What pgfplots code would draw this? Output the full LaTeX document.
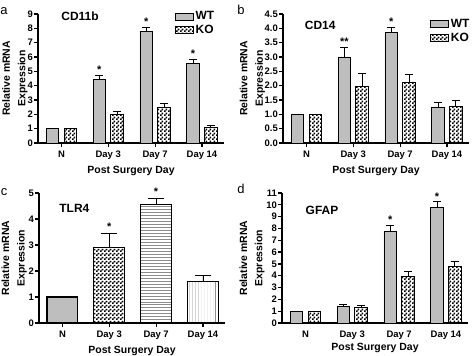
\documentclass[border=0pt]{standalone}
\usepackage{pgfplots}
\pgfplotsset{compat=1.18}
\usepackage{fontspec}
\setmainfont{Liberation Sans}
\usetikzlibrary{patterns,patterns.meta}
\definecolor{wtgray}{RGB}{190,190,190}
\tikzset{ptitle/.style={font=\bfseries\fontsize{12}{12}\selectfont}}
\pgfdeclarepattern{
  name=fchk, type=uncolored,
  bottom left={\pgfpoint{0bp}{0bp}}, top right={\pgfpoint{4bp}{4bp}},
  tile size={\pgfpoint{4bp}{4bp}},
  code={\pgfpathrectangle{\pgfpointorigin}{\pgfpoint{2bp}{2bp}}%
        \pgfpathrectangle{\pgfpoint{2bp}{2bp}}{\pgfpoint{2bp}{2bp}}%
        \pgfusepath{fill}}
}

\pgfplotsset{
  panel/.style={
    ybar,
    scale only axis, width=186bp, height=129bp,
    xmin=-0.5, xmax=3.47, ymin=0, enlargelimits=false,
    axis x line=bottom, axis y line=left,
    axis line style={-, line width=1.6bp},
    tick align=outside,
    major tick length=4bp,
    tick style={line width=1.2bp, black},
    xtick={0,1,2,3}, xticklabels={N, Day 3, Day 7, Day 14},
    /pgf/number format/assume math mode=true,
    tick label style={font=\bfseries\fontsize{9.5}{10}\selectfont},
    yticklabel style={inner sep=1bp},
    ylabel={Relative mRNA\\Expression},
    ylabel style={align=center, font=\bfseries\fontsize{10.5}{15.5}\selectfont, anchor=center, rotate=0},
    xlabel={Post Surgery Day},
    xlabel style={font=\bfseries\fontsize{10.5}{12}\selectfont},
    clip=false,
    legend style={draw=none, fill=none, inner sep=0pt, anchor=north west,
      font=\bfseries\fontsize{12}{12}\selectfont, row sep=0pt},
    legend cell align=left,
  },
  ebars/.style={error bars/y dir=plus, error bars/y explicit,
    error bars/error bar style={black, line width=0.8bp},
    error bars/error mark options={black, line width=0.8bp, mark size=#1, rotate=90}},
  wt/.style={bar width=0.27, bar shift=-0.19, fill=wtgray, draw=black, line width=0.8bp,
    ebars=4bp,
    legend image code/.code={\draw[fill=wtgray, draw=black, line width=0.8bp] (0bp,-3.5bp) rectangle (18bp,3.5bp);}},
  ko/.style={bar width=0.27, bar shift=0.19, pattern=fchk, pattern color=black, draw=black, line width=0.8bp,
    ebars=4bp,
    legend image code/.code={\draw[pattern=fchk, pattern color=black, draw=black, line width=0.8bp] (0bp,-3.5bp) rectangle (18bp,3.5bp);}},
  stars/.style={only marks, mark=none, bar shift=0pt, nodes near coords, point meta=explicit symbolic,
    nodes near coords style={anchor=south, inner sep=1bp, font=\bfseries\fontsize{11}{11}\selectfont}},
}

\begin{document}
\begin{tikzpicture}
\path[use as bounding box] (0bp,0bp) rectangle (474bp,356bp);

% ---------------- panel a ----------------
\begin{axis}[panel, at={(38bp,213bp)}, anchor=south west,
  ymax=9, ytick={0,1,...,9},
  ylabel style={at={(axis description cs:-0.124,0.5)}},
  legend style={at={(0.735,1.035)}}]
\addplot[wt] coordinates {(0,1) +- (0,0) (1,4.45) +- (0,0.27) (2,7.8) +- (0,0.25) (3,5.55) +- (0,0.3)};
\addlegendentry{WT}
\addplot[ko] coordinates {(0,1) +- (0,0) (1,2.0) +- (0,0.22) (2,2.45) +- (0,0.3) (3,1.1) +- (0,0.1)};
\addlegendentry{KO}
\addplot[stars] coordinates {(0.81,4.75)[*] (1.81,8.08)[*] (2.81,5.88)[*]};
\node[ptitle] at (rel axis cs:0.226,0.98) {CD11b};
\end{axis}
\node[font=\fontsize{13}{13}\selectfont] at (4bp,345bp) {a};

% ---------------- panel b ----------------
\begin{axis}[panel, at={(283bp,213bp)}, anchor=south west,
  ymax=4.5, ytick={0,0.5,...,4.5},
  yticklabel style={/pgf/number format/.cd, fixed, fixed zerofill, precision=1},
  ylabel style={at={(axis description cs:-0.164,0.5)}},
  legend style={at={(0.79,0.977)}}]
\addplot[wt] coordinates {(0,1) +- (0,0) (1,3.0) +- (0,0.32) (2,3.85) +- (0,0.17) (3,1.25) +- (0,0.15)};
\addlegendentry{WT}
\addplot[ko] coordinates {(0,1) +- (0,0) (1,1.97) +- (0,0.46) (2,2.12) +- (0,0.26) (3,1.28) +- (0,0.22)};
\addlegendentry{KO}
\addplot[stars] coordinates {(0.81,3.36)[**] (1.81,4.06)[*]};
\node[ptitle] at (rel axis cs:0.2,0.91) {CD14};
\end{axis}
\node[font=\fontsize{13}{13}\selectfont] at (241bp,346bp) {b};

% ---------------- panel c ----------------
\begin{axis}[panel, at={(39bp,33bp)}, anchor=south west, height=130bp,
  ymax=5, ytick={0,1,...,5},
  ylabel style={at={(axis description cs:-0.134,0.5)}}]
\addplot[bar width=0.66, bar shift=0pt, fill=wtgray, draw=black, line width=1.2bp, ebars=8bp]
  coordinates {(0,1) +- (0,0)};
\addplot[bar width=0.66, bar shift=0pt, pattern=fchk, pattern color=black, draw=black, line width=1.2bp, ebars=8bp]
  coordinates {(1,2.9) +- (0,0.55)};
\addplot[bar width=0.66, bar shift=0pt, pattern=horizontal lines, pattern color=black!45, draw=black, line width=1.2bp, ebars=8bp]
  coordinates {(2,4.55) +- (0,0.25)};
\addplot[bar width=0.66, bar shift=0pt, pattern=vertical lines, pattern color=black!45, draw=black, line width=1.2bp, ebars=8bp]
  coordinates {(3,1.6) +- (0,0.25)};
\addplot[stars] coordinates {(1,3.5)[*] (2,4.84)[*]};
\node[ptitle] at (rel axis cs:0.19,0.885) {TLR4};
\end{axis}
\node[font=\fontsize{13}{13}\selectfont] at (4bp,164bp) {c};

% ---------------- panel d ----------------
\begin{axis}[panel, at={(282bp,33bp)}, anchor=south west, height=130bp,
  ymax=11, ytick={0,1,...,11},
  ylabel style={at={(axis description cs:-0.161,0.5)}},
  xtick style={draw=none}, xlabel style={yshift=3bp}]
\addplot[wt] coordinates {(0,1) +- (0,0) (1,1.4) +- (0,0.2) (2,7.75) +- (0,0.55) (3,9.8) +- (0,0.45)};
\addplot[ko] coordinates {(0,1) +- (0,0) (1,1.3) +- (0,0.2) (2,3.95) +- (0,0.4) (3,4.75) +- (0,0.45)};
\addplot[stars] coordinates {(1.81,8.35)[*] (2.81,10.3)[*]};
\node[ptitle] at (rel axis cs:0.215,0.87) {GFAP};
\end{axis}
\node[font=\fontsize{13}{13}\selectfont] at (241bp,167bp) {d};
\end{tikzpicture}
\end{document}
